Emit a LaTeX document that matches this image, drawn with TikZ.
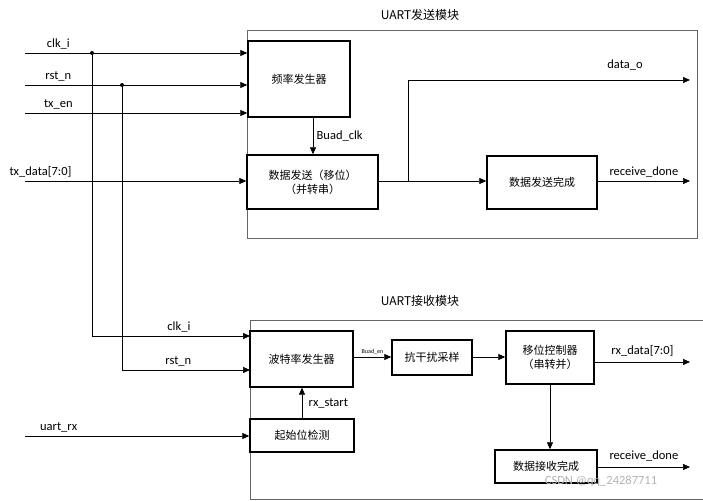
\documentclass[tikz,border=0pt]{standalone}
\usepackage{fontspec}
\setmainfont{Carlito}
\newfontfamily\cjk{Noto Sans CJK SC}
\usetikzlibrary{arrows.meta}
\begin{document}
\begin{tikzpicture}[x=1pt,y=-1pt,
 blk/.style={draw=black,line width=1.4pt,minimum width=#1,inner sep=0pt,align=center,font=\cjk\fontsize{11}{14}\selectfont},
 outer/.style={draw=gray!80!black,line width=0.8pt},
 con/.style={line width=0.7pt,-{Triangle[length=7pt,width=6pt]}},
 lbl/.style={font=\fontsize{12.5}{14}\selectfont}]
\useasboundingbox (0,0) rectangle (703,500);
\draw[outer] (247,30) rectangle (697,238);
\draw[outer] (250,320) rectangle (706,499);
\node[font=\cjk\fontsize{12}{14}\selectfont] at (420,15) {UART发送模块};
\node[font=\cjk\fontsize{12}{14}\selectfont] at (420,301) {UART接收模块};
% top blocks
\node[blk=102pt,minimum height=76pt] (fg) at (299,79) {频率发生器};
\node[blk=131pt,minimum height=54pt] (ds) at (312.5,182) {数据发送（移位）\\（并转串）};
\node[blk=110pt,minimum height=53pt] (dc) at (542,182.5) {数据发送完成};
% bottom blocks
\node[blk=103pt,minimum height=56pt] (bt) at (301.5,359) {波特率发生器};
\node[blk=80pt,minimum height=35pt] (kg) at (432,357.5) {抗干扰采样};
\node[blk=88pt,minimum height=53pt] (yw) at (550,357.5) {移位控制器\\（串转并）};
\node[blk=104pt,minimum height=33pt] (qs) at (302,435.5) {起始位检测};
\node[blk=102pt,minimum height=33pt] (jc) at (546,466.5) {数据接收完成};
% inputs
\coordinate (iclk) at (25,53); \coordinate (irst) at (25,85);
\coordinate (iten) at (25,113); \coordinate (itd) at (25,181);
\coordinate (iux) at (25,436);
\draw[con] (iclk) -- (iclk-|fg.west) node[pos=0.15,above,lbl]{clk\_i};
\draw[con] (irst) -- (irst-|fg.west) node[pos=0.15,above,lbl]{rst\_n};
\draw[con] (iten) -- (iten-|fg.west) node[pos=0.15,above,lbl]{tx\_en};
\draw[con] (itd) -- (itd-|ds.west) node[pos=0.07,above,lbl]{tx\_data[7:0]};
\draw[con] (iux) -- (iux-|qs.west) node[pos=0.15,above,lbl]{uart\_rx};
\coordinate (d1) at (92,53); \coordinate (d2) at (122,85);
\fill (d1) circle (2pt); \fill (d2) circle (2pt);
\draw[con] (d1) -- (92,336) -- (250,336) node[pos=0.55,above,lbl]{clk\_i};
\draw[con] (d2) -- (122,370) -- (250,370) node[pos=0.44,above,lbl]{rst\_n};
% top connectors
\draw[con] (fg.south-|313,0) -- (ds.north-|313,0) node[midway,right,lbl]{Buad\_clk};
\draw[con] (ds.east|-0,181) -- (dc.west|-0,181);
\coordinate (o1) at (690,80);
\draw[con] (408,181) -- (408,80) -- (o1);
\node[lbl] at (625,65) {data\_o};
\coordinate (o2) at (690,181);
\draw[con] (dc.east|-o2) -- (o2) node[midway,above,lbl]{receive\_done};
% bottom connectors
\draw[con] (bt.east|-0,357) -- (kg.west|-0,357) node[midway,above=-1pt,font=\fontsize{6}{7}\selectfont]{Buad\_en};
\draw[con] (kg.east|-0,357) -- (yw.west|-0,357);
\draw[con] (qs.north-|302,0) -- (bt.south-|302,0) node[midway,right=3pt,lbl]{rx\_start};
\draw[con] (yw.south) -- (jc.north-|yw.south);
\coordinate (o3) at (690,362); \coordinate (o4) at (690,467);
\draw[con] (yw.east|-o3) -- (o3) node[midway,above=2pt,lbl]{rx\_data[7:0]};
\draw[con] (jc.east|-o4) -- (o4) node[midway,above=2pt,lbl]{receive\_done};
\node[text=gray!60,font=\fontsize{12.5}{14}\selectfont] at (601,481) {CSDN @qq\_24287711};
\end{tikzpicture}
\end{document}
